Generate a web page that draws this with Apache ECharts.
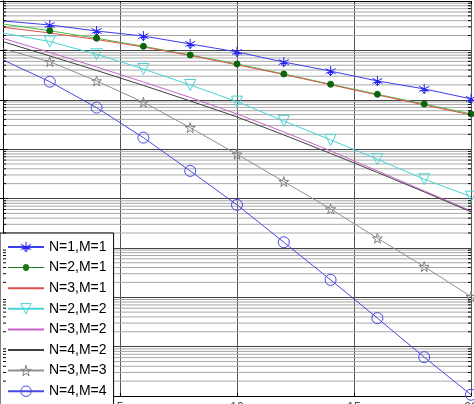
<!DOCTYPE html>
<html>
<head>
<meta charset="utf-8">
<script src="https://cdn.jsdelivr.net/npm/echarts@6/dist/echarts.min.js"></script>
<style>
html,body{margin:0;padding:0;background:#fff;}
#main{width:474px;height:404px;}
</style>
</head>
<body>
<div id="main"></div>
<script>
var myChart = echarts.init(document.getElementById('main'));

// SNR points (dB)
var snr = [0, 2, 4, 6, 8, 10, 12, 14, 16, 18, 20];

// BER
var n1m1 = [0.394, 0.327, 0.247, 0.195, 0.135, 0.093, 0.058, 0.038, 0.024, 0.0166, 0.0104];
var n2m1 = [0.342, 0.25, 0.176, 0.121, 0.0807, 0.053, 0.0333, 0.0206, 0.0129, 0.0082, 0.00516];
var n3m1 = [0.294, 0.225, 0.166, 0.117, 0.0788, 0.0511, 0.0325, 0.0201, 0.0125, 0.00785, 0.00492];
var n2m2 = [0.225, 0.151, 0.0834, 0.042, 0.0199, 0.00916, 0.00372, 0.00154, 6.25e-4, 2.46e-4, 1.09e-4];
var n3m2 = [0.176, 0.0907, 0.0461, 0.0229, 0.01114, 0.00516, 0.00223, 9.2e-4, 3.62e-4, 1.43e-4, 5.61e-5];
var n4m2 = [0.150, 0.0771, 0.0392, 0.0195, 0.00946, 0.00449, 0.00194, 8.18e-4, 3.37e-4, 1.36e-4, 5.36e-5];
var n3m3 = [0.107, 0.059, 0.024, 0.0089, 0.00272, 7.88e-4, 2.2e-4, 6.15e-5, 1.57e-5, 4.18e-6, 1.03e-6];
var n4m4 = [0.064, 0.0232, 0.00692, 0.00171, 3.62e-4, 7.42e-5, 1.3e-5, 2.25e-6, 3.78e-7, 6.12e-8, 1.06e-8];

var names = ['N=1,M=1', 'N=2,M=1', 'N=3,M=1', 'N=2,M=2', 'N=3,M=2', 'N=4,M=2', 'N=3,M=3', 'N=4,M=4'];

// minor log grid values 2..9 x 10^-k
var minorVals = [];
for (var k = 1; k <= 8; k++) {
	for (var m = 2; m <= 9; m++) {
		minorVals.push(m * Math.pow(10, -k));
	}
}

var asterisk = 'path://M5 0L5 10M0.7 2.5L9.3 7.5M0.7 7.5L9.3 2.5M2.6 6.5L7.4 6.5L5 9.5Z';
var star5 = 'path://M50 0L61 35L98 35L68 57L79 91L50 70L21 91L32 57L2 35L39 35Z';
var triDown = 'path://M0 0L10 0L5 9Z';
// legend icon for the dot series: thin line with a small dot in the middle
var dotLine = 'path://M0 2.5L15 2.5A3 3 0 0 1 21 2.5L36 2.5L36 3.5L21 3.5A3 3 0 0 1 15 3.5L0 3.5Z';

function pts(arr, marked) {
	var out = [];
	for (var i = 0; i < snr.length; i++) {
		var d = { value: [snr[i], arr[i]] };
		if (i === 0 || !marked) d.symbol = 'none';
		out.push(d);
	}
	return out;
}

function line(name, arr, color, sym, symSize, fill, border) {
	var marked = sym !== 'none';
	return {
		name: name,
		type: 'line',
		data: pts(arr, marked),
		symbol: marked ? sym : 'circle',
		symbolSize: marked ? symSize : 0,
		showSymbol: marked,
		lineStyle: { color: color, width: 1 },
		itemStyle: marked ? { color: fill, borderColor: border, borderWidth: 1 }
			: { color: 'rgba(0,0,0,0)', borderColor: 'rgba(0,0,0,0)', borderWidth: 0 },
		emphasis: { disabled: true },
		z: 5
	};
}

// segments broken by '-' so one series draws many short lines
function segs(x0, x1) {
	var out = [];
	minorVals.forEach(function (v) {
		out.push([x0, v], [x1, v], '-');
	});
	return out;
}

function helper(name, data, color, z) {
	return {
		name: name,
		type: 'line',
		data: data,
		symbol: 'none',
		connectNulls: false,
		silent: true,
		lineStyle: { color: color, width: 1 },
		emphasis: { disabled: true },
		z: z
	};
}

var legendData = names.map(function (n) { return { name: n }; });
legendData[0].itemStyle = { color: 'rgba(0,0,0,0)', borderColor: '#2020f0', borderWidth: 1 };
legendData[1].icon = dotLine;
legendData[1].itemStyle = { borderWidth: 0, color: '#1a7a1a' };
legendData[6].itemStyle = { color: 'rgba(0,0,0,0)', borderColor: '#808080', borderWidth: 1 };

var option = {
	animation: false,
	backgroundColor: '#fff',
	grid: { left: 3, right: 3, top: 1, bottom: 8, show: false, containLabel: false, outerBoundsMode: 'none' },
	legend: {
		data: legendData,
		orient: 'vertical',
		left: 0,
		top: 233,
		height: 220,
		padding: [7, 7, 7, 7],
		itemWidth: 36,
		itemHeight: 13,
		itemGap: 6.6,
		backgroundColor: '#fff',
		borderColor: '#000',
		borderWidth: 1,
		borderRadius: 0,
		itemStyle: { borderWidth: 1 },
		textStyle: { fontFamily: 'Liberation Sans', fontSize: 14, color: '#000' },
		selectedMode: false
	},
	xAxis: [{
		type: 'value',
		min: 0,
		max: 20,
		interval: 5,
		axisLine: { show: true, lineStyle: { color: '#000', width: 1 } },
		axisTick: { show: true, inside: true, length: 3, lineStyle: { color: '#000' } },
		axisLabel: { show: true, margin: 6, fontSize: 12, color: '#444', fontFamily: 'Liberation Sans' },
		splitLine: { show: true, lineStyle: { color: '#555', width: 1 } }
	}, {
		type: 'value',
		position: 'top',
		min: 0,
		max: 20,
		interval: 5,
		axisLine: { show: true, lineStyle: { color: '#000', width: 1 } },
		axisTick: { show: true, inside: true, length: 3, lineStyle: { color: '#000' } },
		axisLabel: { show: false },
		splitLine: { show: false }
	}],
	yAxis: [{
		type: 'log',
		logBase: 10,
		min: 1e-8,
		max: 1,
		interval: 1,
		axisLine: { show: true, lineStyle: { color: '#000', width: 1 } },
		axisTick: { show: true, inside: true, length: 5, lineStyle: { color: '#000' } },
		axisLabel: { show: false },
		splitLine: { show: true, lineStyle: { color: '#444', width: 1 } }
	}, {
		type: 'log',
		logBase: 10,
		position: 'right',
		min: 1e-8,
		max: 1,
		interval: 1,
		axisLine: { show: true, lineStyle: { color: '#000', width: 1 } },
		axisTick: { show: true, inside: true, length: 5, lineStyle: { color: '#000' } },
		axisLabel: { show: false },
		splitLine: { show: false }
	}],
	series: [
		helper('grid', segs(0, 20), '#a8a8a8', 1),
		helper('ticksL', segs(0, 0.13), '#000', 6),
		helper('ticksR', segs(19.87, 20), '#000', 6),
		line(names[0], n1m1, '#3c3cf0', asterisk, 10, 'rgba(0,0,0,0)', '#2020f0'),
		line(names[1], n2m1, '#40c040', 'circle', 6, '#0b660b', '#0b660b'),
		line(names[2], n3m1, '#e05050', 'none'),
		line(names[3], n2m2, '#48d4d4', triDown, 11, 'rgba(0,0,0,0)', '#48d4d4'),
		line(names[4], n3m2, '#c864c8', 'none'),
		line(names[5], n4m2, '#404040', 'none'),
		line(names[6], n3m3, '#909090', star5, 10, 'rgba(0,0,0,0)', '#808080'),
		line(names[7], n4m4, '#4848e0', 'circle', 11, 'rgba(0,0,0,0)', '#4848e0')
	]
};

myChart.setOption(option);
</script>
</body>
</html>
